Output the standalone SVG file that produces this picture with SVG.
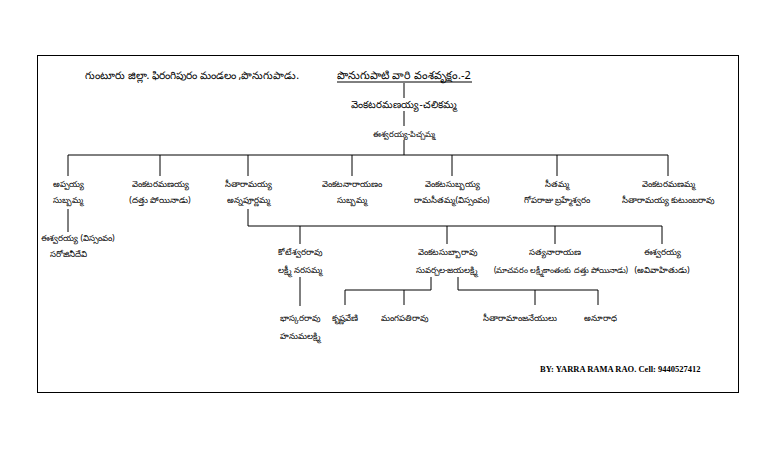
<svg xmlns="http://www.w3.org/2000/svg" width="768" height="450" viewBox="0 0 768 450">
<style>
text{font-family:"Noto Sans","DejaVu Sans",sans-serif;font-size:8.5px;fill:#000;text-anchor:middle}
.c line,.c polyline{stroke:#000;stroke-width:1;fill:none}
</style>
<rect width="768" height="450" fill="#fff"/>
<rect x="37.5" y="55.5" width="701" height="337" fill="none" stroke="#000"/>
<text x="192" y="79" style="font-size:10.5px">గుంటూరు జిల్లా. ఫిరంగిపురం మండలం ,పొనుగుపాడు.</text>
<g id="title"><text x="404" y="79" style="font-size:11px">పొనుగుపాటి వారి వంశవృక్షం.-2</text><line x1="337" y1="82" x2="472" y2="82" stroke="#000"/></g>
<g class="c" id="connectors">
<line x1="404" y1="83" x2="404" y2="98"/>
<line x1="404" y1="111" x2="404" y2="126"/>
<line x1="404" y1="140" x2="404" y2="155"/>
<line x1="68" y1="155" x2="668" y2="155"/>
<line x1="68" y1="155" x2="68" y2="176"/>
<line x1="160" y1="155" x2="160" y2="176"/>
<line x1="248" y1="155" x2="248" y2="176"/>
<line x1="352" y1="155" x2="352" y2="176"/>
<line x1="452" y1="155" x2="452" y2="176"/>
<line x1="557" y1="155" x2="557" y2="176"/>
<line x1="668" y1="155" x2="668" y2="176"/>
<line x1="68" y1="209" x2="68" y2="232"/>
<polyline points="248,209 248,226 662,226 662,244"/>
<line x1="300" y1="226" x2="300" y2="244"/>
<line x1="447" y1="226" x2="447" y2="244"/>
<line x1="555" y1="226" x2="555" y2="244"/>
<line x1="300" y1="277" x2="300" y2="306"/>
<polyline points="431,277 431,290 345,290 345,305"/>
<line x1="404" y1="290" x2="404" y2="305"/>
<polyline points="458,277 458,290 598,290 598,305"/>
<line x1="535" y1="290" x2="535" y2="305"/>
</g>
<g id="n0"><text x="404" y="108" style="font-size:10px">వెంకటరమణయ్య-చలికమ్మ</text></g>
<g id="n1"><text x="404" y="137" style="font-size:8px">ఈశ్వరయ్య-పిచ్చమ్మ</text></g>
<g id="c1"><text x="68" y="187">అప్పయ్య</text><text x="68" y="203">సుబ్బమ్మ</text></g>
<g id="c2"><text x="160" y="187">వెంకటరమణయ్య</text><text x="160" y="203">(దత్తు పోయినాడు)</text></g>
<g id="c3"><text x="248" y="187">సీతారామయ్య</text><text x="248" y="203">అన్నపూర్ణమ్మ</text></g>
<g id="c4"><text x="352" y="187">వెంకటనారాయణం</text><text x="352" y="203">సుబ్బమ్మ</text></g>
<g id="c5"><text x="452" y="187">వెంకటసుబ్బయ్య</text><text x="452" y="203">రామసీతమ్మ(విస్సంవం)</text></g>
<g id="c6"><text x="557" y="187">సీతమ్మ</text><text x="557" y="203">గోపరాజు బ్రహ్మేశ్వరం</text></g>
<g id="c7"><text x="668" y="187">వెంకటరమణమ్మ</text><text x="668" y="203">సీతారామయ్య కుటుంబరావు</text></g>
<g id="g1"><text x="78" y="241">ఈశ్వరయ్య (విస్సంవం)</text><text x="68" y="257">సరోజినీదేవి</text></g>
<g id="g2"><text x="300" y="255">కోటేశ్వరరావు</text><text x="300" y="273">లక్ష్మీ నరసమ్మ</text></g>
<g id="g3"><text x="447" y="255">వెంకటసుబ్బారావు</text><text x="447" y="273">సువర్చల-జయలక్ష్మి</text></g>
<g id="g4"><text x="555" y="255">సత్యనారాయణ</text><text x="561" y="273" style="font-size:8px">(మాచవరం లక్ష్మీకాంతంకు దత్తు పోయినాడు)</text></g>
<g id="g5"><text x="662" y="255">ఈశ్వరయ్య</text><text x="662" y="273">(అవివాహితుడు)</text></g>
<g id="h1"><text x="300" y="321">భాస్కరరావు</text><text x="300" y="339">హనుమలక్ష్మి</text></g>
<g id="h2"><text x="345" y="321">కృష్ణవేణి</text></g>
<g id="h3"><text x="404" y="321">మంగపతిరావు</text></g>
<g id="h4"><text x="520" y="321">సీతారామాంజనేయులు</text></g>
<g id="h5"><text x="600" y="321">అనూరాధ</text></g>
<text x="540" y="372" style="font-family:'Liberation Serif',serif;font-size:8.5px;font-weight:bold;text-anchor:start">BY: YARRA RAMA RAO. Cell: 9440527412</text>
</svg>
